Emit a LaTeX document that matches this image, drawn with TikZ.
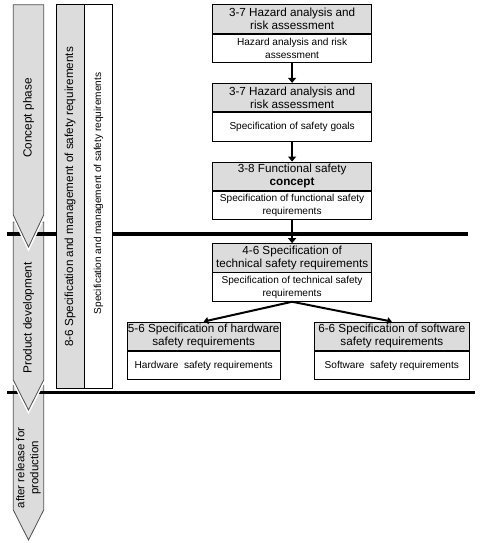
\documentclass[tikz,border=0pt]{standalone}
\usepackage{fontspec}
\setmainfont{Liberation Sans}
\usetikzlibrary{arrows.meta}
\definecolor{boxgray}{HTML}{DCDCDC}
\definecolor{edgegray}{HTML}{505050}
\begin{document}
\begin{tikzpicture}[x=1pt,y=-1pt,
 hdr/.style={draw=black, line width=0.8pt, fill=boxgray, minimum height=28.5pt, inner sep=0pt, align=center, font=\fontsize{11.7}{13}\selectfont},
 bdy/.style={draw=black, line width=0.8pt, fill=white, minimum height=28.5pt, inner sep=0pt, align=center, font=\fontsize{10.1}{12.6}\selectfont},
 wideA/.style={minimum width=159pt},
 wideB/.style={minimum width=152.7pt},
 wideC/.style={minimum width=155pt},
 flow/.style={line width=2.6pt, -{Triangle[width=8pt,length=5pt]}},
 split/.style={line width=2pt, -{Triangle[width=7pt,length=4.5pt]}},
 phase/.style={draw=edgegray, line width=0.8pt, fill=boxgray},
 halo/.style={draw=white, line width=4pt},
 rulebar/.style={line width=3.4pt, black},
 bar/.style={draw=black, line width=0.8pt},
 vlabel/.style={rotate=90, align=center, inner sep=0pt},
]
\useasboundingbox (0,0) rectangle (480,543);

% phase arrows (bottom to top so upper ones overlap)
\path[phase] (13.3,385) -- (43.7,385) -- (43.7,510) -- (28.5,540) -- (13.3,510) -- cycle;
\draw[rulebar] (7,392.7) -- (475,392.7);
\draw[halo] (13.3,380) -- (28.5,410) -- (43.7,380);
\path[phase] (13.3,222) -- (43.7,222) -- (43.7,380) -- (28.5,410) -- (13.3,380) -- cycle;
\draw[rulebar] (7,234) -- (468,234);
\draw[halo] (13.3,215) -- (28.5,247) -- (43.7,215);
\path[phase] (13.3,4.7) -- (43.7,4.7) -- (43.7,215) -- (28.5,247) -- (13.3,215) -- cycle;

\node[vlabel, font=\fontsize{11.8}{13}\selectfont] (pc) at (28.5,118) {Concept phase};
\node[vlabel, font=\fontsize{11.8}{13}\selectfont] (pd) at (28.5,318) {Product development};
\node[vlabel, font=\fontsize{11.5}{14}\selectfont] (pa) at (28.5,468) {after release for\\production};

% vertical bars
\path[bar, fill=boxgray] (56,4.7) rectangle (84.3,388);
\path[bar, fill=white] (84.3,4.7) rectangle (112.5,388);
\node[vlabel, font=\fontsize{11.7}{13}\selectfont] (b86) at (70.2,197) {8-6 Specification and management of safety requirements};
\node[vlabel, font=\fontsize{10.1}{12}\selectfont] (bsm) at (98.4,193.5) {Specification and management of safety requirements};

% boxes
\node[hdr, wideA] (h1) at (292.1,18.9) {3-7 Hazard analysis and\\risk assessment};
\node[bdy, wideA, anchor=north] (b1) at (h1.south) {Hazard analysis and risk\\assessment};

\node[hdr, wideA] (h2) at (292.1,97.5) {3-7 Hazard analysis and\\risk assessment};
\node[bdy, wideA, anchor=north] (b2) at (h2.south) {Specification of safety goals};

\node[hdr, wideA] (h3) at (292.1,176.2) {3-8 Functional safety\\\textbf{concept}};
\node[bdy, wideA, anchor=north] (b3) at (h3.south) {Specification of functional safety\\requirements};

\node[hdr, wideA] (h4) at (292.1,257.8) {4-6 Specification of\\technical safety requirements};
\node[bdy, wideA, anchor=north] (b4) at (h4.south) {Specification of technical safety\\requirements};

\node[hdr, wideB] (h5) at (203.7,336.2) {5-6 Specification of hardware\\safety requirements};
\node[bdy, wideB, anchor=north] (b5) at (h5.south) {Hardware~~safety requirements};

\node[hdr, wideC] (h6) at (391.8,336.2) {6-6 Specification of software\\safety requirements};
\node[bdy, wideC, anchor=north] (b6) at (h6.south) {Software~~safety requirements};

% connectors
\draw[flow] (b1.south) -- (h2.north);
\draw[flow] (b2.south) -- (h3.north);
\draw[flow] (b3.south) -- (h4.north);
\draw[split] (b4.south) -- (h5.north);
\draw[split] (b4.south) -- (h6.north);
\end{tikzpicture}
\end{document}
